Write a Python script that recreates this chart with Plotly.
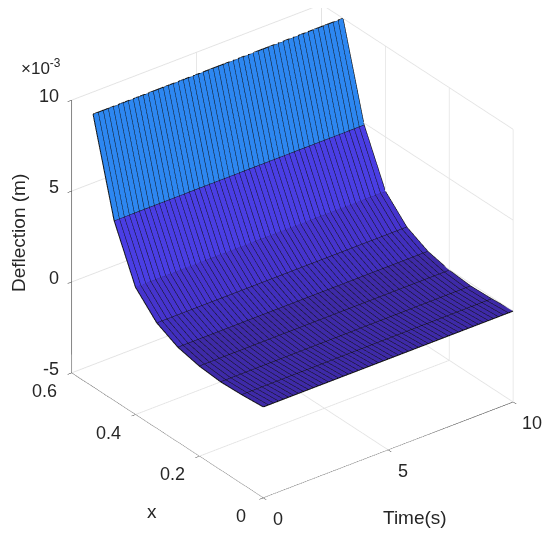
import numpy as np
import plotly.graph_objects as go

# beam positions (m) and deflection profile (m), constant over time
x_pos = [0.0, 0.067, 0.133, 0.2, 0.267, 0.333, 0.4, 0.467, 0.533]
deflection = [0.0, -0.0001, -0.00015, -0.00005, 0.00022, 0.0008, 0.002, 0.0049, 0.01]
time = np.linspace(0, 10, 51)

time_ticks = [0, 5, 10]
x_ticks = [0, 0.2, 0.4, 0.6]
x_labels = ['0', '0.2', '0.4', '0.6']
z_ticks = [-0.005, 0, 0.005, 0.01]
z_labels = ['-5', '0', '5', '10']

nx, nt = len(x_pos), len(time)
T, X = np.meshgrid(time, x_pos)
Z = np.tile(np.array(deflection)[:, None], (1, nt))

# faceted surface: two triangles per grid cell, coloured like matlab flat shading
vx, vy, vz = T.ravel(), X.ravel(), Z.ravel()
ii, jj, kk, cell = [], [], [], []
for r in range(nx - 1):
    for c in range(nt - 1):
        a = r * nt + c
        b = a + 1
        d = a + nt
        e = d + 1
        ii += [a, a]
        jj += [b, e]
        kk += [e, d]
        cell += [deflection[r], deflection[r]]

cscale = [[0.0, '#3E2AA8'], [0.01, '#3F2DB5'], [0.05, '#4230C0'], [0.16, '#4634CF'],
          [0.40, '#4A3EE4'], [0.98, '#2D87F1'], [1.0, '#2D87F1']]

surf = go.Mesh3d(x=vx, y=vy, z=vz, i=ii, j=jj, k=kk,
                 intensity=cell, intensitymode='cell', colorscale=cscale,
                 cmin=0, cmax=0.005, showscale=False, flatshading=True,
                 lighting=dict(ambient=1, diffuse=0, specular=0, roughness=1, fresnel=0),
                 hoverinfo='skip')

# black mesh edges
lx, ly, lz = [], [], []
for r in range(nx):
    lx += list(time) + [None]
    ly += [x_pos[r]] * nt + [None]
    lz += [deflection[r]] * nt + [None]
for c in range(nt):
    lx += [time[c]] * nx + [None]
    ly += x_pos + [None]
    lz += deflection + [None]
edges = go.Scatter3d(x=lx, y=ly, z=lz, mode='lines',
                     line=dict(color='#111111', width=2), hoverinfo='skip')

fig = go.Figure([surf, edges])

ax = dict(showbackground=False, gridcolor='#e3e3e3', showline=True, linecolor='#262626',
          ticks='outside', tickcolor='#262626', ticklen=5, showspikes=False,
          showticklabels=False, zeroline=False, title=dict(text=''))

# tick labels as scene annotations so they sit like matlab's (horizontal, offset)
lab_font = dict(size=18, color='#262626')
tick_notes = []
for t in time_ticks:
    tick_notes.append(dict(x=t, y=0, z=-0.005, text=str(t), showarrow=False,
                           xshift=15 if t < 10 else 19, yshift=-21, font=lab_font))
for v, txt in zip(x_ticks, x_labels):
    tick_notes.append(dict(x=0, y=v, z=-0.005, text=txt, showarrow=False,
                           xshift=-27 if v > 0 else -22, yshift=-18, font=lab_font))
for v, txt in zip(z_ticks, z_labels):
    tick_notes.append(dict(x=0, y=0.6, z=v, text=txt, showarrow=False,
                           xanchor='right', xshift=-11, yshift=4, font=lab_font))

# matlab default view (az -37.5, el 30); eye is absolute so add it to the centre
s = 1.175
ctr = dict(x=-0.025, y=0.025, z=-0.11)
view = dict(x=-0.527 * 2, y=-0.687 * 2, z=0.5 * 2)
eye = {a: ctr[a] + view[a] for a in 'xyz'}

fig.update_layout(
    width=550, height=536,
    margin=dict(l=0, r=0, t=0, b=0),
    paper_bgcolor='white',
    showlegend=False,
    font=dict(family='Liberation Sans, Arial', color='#262626'),
    scene=dict(
        xaxis=dict(ax, range=[0, 10], tickvals=time_ticks),
        yaxis=dict(ax, range=[0, 0.6], tickvals=x_ticks),
        zaxis=dict(ax, range=[-0.005, 0.01], tickvals=z_ticks),
        aspectmode='manual', aspectratio=dict(x=s, y=s, z=s),
        camera=dict(eye=eye, center=ctr, projection=dict(type='orthographic')),
        annotations=tick_notes,
    ),
    annotations=[
        dict(text='Deflection (m)', textangle=-90, x=0.018, y=0.58, xref='paper', yref='paper',
             xanchor='center', yanchor='middle', showarrow=False, font=dict(size=19)),
        dict(text='×10<sup>-3</sup>', x=0.06, y=0.89, xref='paper', yref='paper',
             xanchor='center', yanchor='middle', showarrow=False, font=dict(size=17)),
        dict(text='x', x=0.262, y=0.06, xref='paper', yref='paper',
             xanchor='center', yanchor='middle', showarrow=False, font=dict(size=19)),
        dict(text='Time(s)', x=0.74, y=0.05, xref='paper', yref='paper',
             xanchor='center', yanchor='middle', showarrow=False, font=dict(size=19)),
    ],
)

fig.write_html('out.html')
